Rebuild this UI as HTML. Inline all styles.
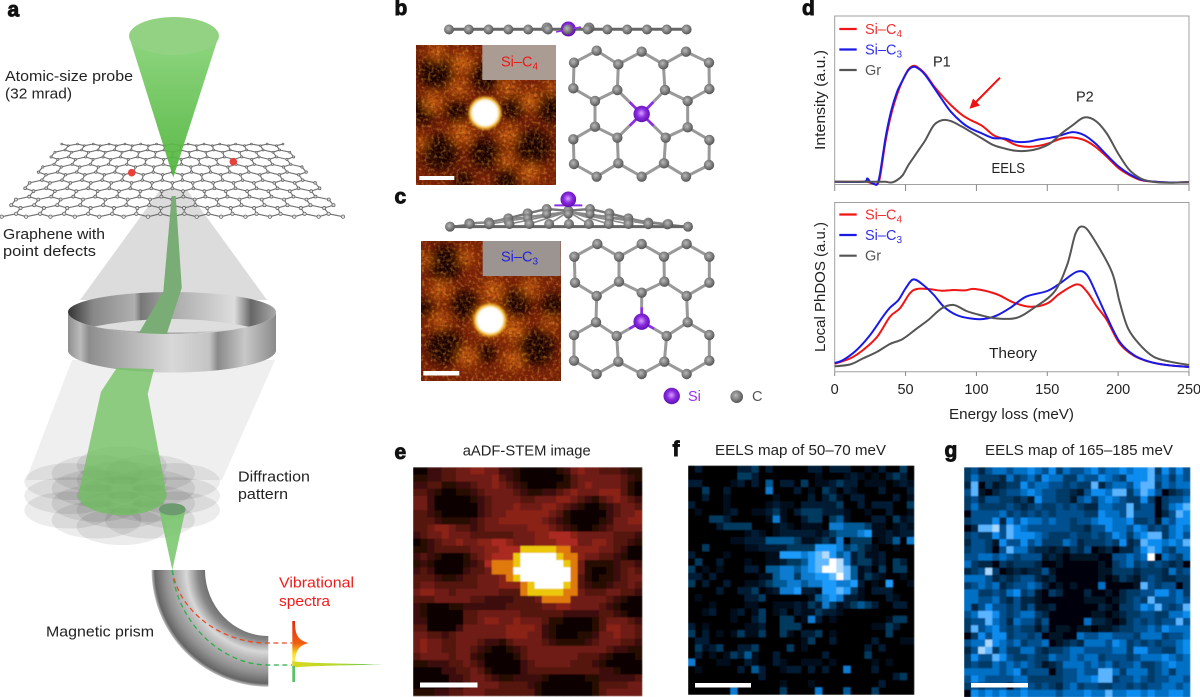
<!DOCTYPE html>
<html lang="en">
<head>
<meta charset="utf-8">
<title>EELS figure</title>
<style>
html,body{margin:0;padding:0;background:#fff;width:1200px;height:697px;overflow:hidden}
svg{display:block;font-family:"Liberation Sans",sans-serif}
.pl{font-weight:bold;font-size:21px;fill:#111;stroke:#111;stroke-width:.9}
.t{font-size:15px;fill:#222}
.leg{font-size:14.5px}
.sub{font-size:10px}
</style>
</head>
<body>
<svg id="fig" xmlns="http://www.w3.org/2000/svg" width="1200" height="697" viewBox="0 0 1200 697">
<defs>
  <linearGradient id="coneG" x1="0" y1="0" x2="0" y2="1"><stop offset="0" stop-color="#86d276"/><stop offset="1" stop-color="#4fb43a"/></linearGradient>
  <linearGradient id="ringG" x1="0" y1="0" x2="1" y2="0">
    <stop offset="0" stop-color="#8f8f8f"/><stop offset=".06" stop-color="#bbb"/><stop offset=".1" stop-color="#8d8d8d"/><stop offset=".3" stop-color="#b5b5b5"/><stop offset=".5" stop-color="#d8d8d8"/><stop offset=".68" stop-color="#c4c4c4"/><stop offset=".72" stop-color="#8a8a8a"/><stop offset=".85" stop-color="#c8c8c8"/><stop offset="1" stop-color="#8a8a8a"/>
  </linearGradient>
  <linearGradient id="ringIn" x1="0" y1="0" x2="1" y2="0">
    <stop offset="0" stop-color="#333"/><stop offset=".12" stop-color="#888"/><stop offset=".32" stop-color="#b0b0b0"/><stop offset=".35" stop-color="#777"/><stop offset=".5" stop-color="#aaa"/><stop offset=".8" stop-color="#ddd"/><stop offset=".88" stop-color="#666"/><stop offset="1" stop-color="#aaa"/>
  </linearGradient>
  <radialGradient id="prismG" gradientUnits="userSpaceOnUse" cx="268.3" cy="570" r="117">
    <stop offset=".54" stop-color="#6f6f6f"/><stop offset=".6" stop-color="#858585"/><stop offset=".7" stop-color="#d8d8d8"/><stop offset=".76" stop-color="#bcbcbc"/><stop offset=".88" stop-color="#929292"/><stop offset=".97" stop-color="#646464"/><stop offset="1" stop-color="#ccc"/>
  </radialGradient>
  <linearGradient id="specR" x1="0" y1="0" x2="0" y2="1"><stop offset="0" stop-color="#e02a10"/><stop offset=".55" stop-color="#f06010"/><stop offset=".8" stop-color="#f8e020"/><stop offset="1" stop-color="#f8f070"/></linearGradient>
  <linearGradient id="specG" x1="0" y1="0" x2="1" y2="0"><stop offset="0" stop-color="#d8d820"/><stop offset=".5" stop-color="#b8d830"/><stop offset="1" stop-color="#50c050"/></linearGradient>
  <radialGradient id="cBall" cx=".42" cy=".4" r=".6"><stop offset="0" stop-color="#b8b8b8"/><stop offset="1" stop-color="#555"/></radialGradient>
  <radialGradient id="siBall" cx=".48" cy=".45" r=".55"><stop offset="0" stop-color="#d9a0ff"/><stop offset=".5" stop-color="#8a2be0"/><stop offset="1" stop-color="#5e10b0"/></radialGradient>
  <filter id="blur6" x="-30%" y="-30%" width="160%" height="160%"><feGaussianBlur stdDeviation="5"/></filter>
  <filter id="blur2" x="-30%" y="-30%" width="160%" height="160%"><feGaussianBlur stdDeviation="1.3"/></filter>
  <filter id="soft" x="0" y="0" width="100%" height="100%"><feGaussianBlur stdDeviation=".45"/></filter>
  <filter id="noiseO" x="0" y="0" width="100%" height="100%"><feTurbulence type="fractalNoise" baseFrequency="0.32" numOctaves="2" seed="3"/><feColorMatrix type="matrix" values="0 0 0 0 .9  0 0 0 0 .42  0 0 0 0 .05  3 0 0 0 -1.4"/></filter>
  <filter id="noiseD" x="0" y="0" width="100%" height="100%"><feTurbulence type="fractalNoise" baseFrequency="0.35" numOctaves="2" seed="11"/><feColorMatrix type="matrix" values="0 0 0 0 .12  0 0 0 0 .02  0 0 0 0 0  3 0 0 0 -1.35"/></filter>
  <clipPath id="clipB"><rect x="416" y="45" width="140" height="140"/></clipPath>
  <clipPath id="clipC"><rect x="421" y="241" width="140" height="140"/></clipPath>
</defs>

<!-- panel a -->
<g id="panel-a">
  <polygon points="160,190 187,190 267,300 80,300" fill="#dcdcdc"/>
  <g id="lattice"></g>
  <circle cx="131.7" cy="172.7" r="3.8" fill="#e8403a"/>
  <circle cx="233.3" cy="161.7" r="3.8" fill="#e8403a"/>
  <polygon points="129,36 218.7,36 173.3,177.5" fill="url(#coneG)" opacity=".93"/>
  <ellipse cx="174" cy="36" rx="45" ry="19" fill="#93d283"/>
  <polygon points="171.7,196 175.7,196 181.7,286.7 166.7,333.3 138.3,333.3 163.3,291.7" fill="#79ad75"/>
  <path d="M68,312 A104,20 0 0 1 276,312 A104,22 0 0 1 68,312Z" fill="url(#ringIn)"/>
  <path d="M92,327 Q172,311 250,327 Q172,338 92,327Z" fill="#dedede"/>
  <polygon points="163.3,291.7 181.7,286.7 181.7,288 166.7,334 138.3,334" fill="#79ad75"/>
  <path d="M68,312 A104,22 0 0 0 276,312 L276,350 A104,22.5 0 0 1 68,350Z" fill="url(#ringG)"/>
  <polygon points="72,360 275,360 222,480 26,480" fill="#ececec" opacity=".85"/>
  <g id="diffraction"></g>
  <path d="M68,340 L276,340 L276,350 A104,22.5 0 0 1 68,350Z" fill="url(#ringG)"/>
  <path d="M116.7,368 L154,369 L147.7,394 L166.7,495 A44,20 0 0 1 78.3,495 L101,391.7Z" fill="#6fc060" opacity=".78"/>
  <polygon points="159,509 185.6,509 172.3,570" fill="#74c468" opacity=".85"/>
  <ellipse cx="172.3" cy="509.3" rx="13.3" ry="6" fill="#6d9a6e"/>
  <path d="M151.6,570 A116.7,116.7 0 0 0 268.3,686.7 L268.3,636 A63.3,66 0 0 1 205,570Z" fill="url(#prismG)"/>
  <path d="M172.3,570 C178,610 220,643 267,643 L292,643" fill="none" stroke="#ea4a28" stroke-width="1.3" stroke-dasharray="5 3.5"/>
  <path d="M172.3,570 C176,620 220,665 268,665 L292,665" fill="none" stroke="#2fae4a" stroke-width="1.3" stroke-dasharray="5 3.5"/>
  <path d="M292.3,621 L295,621 C295,634 297,640 308.7,643 C297,646 296,652 295,662 L292.3,662Z" fill="url(#specR)"/>
  <path d="M292.3,661 C300,663 340,663.5 382,664.5 C340,665.5 300,666 292.3,668Z" fill="url(#specG)"/>
  <path d="M292.3,666 L295,666 L295,682 L292.3,682Z" fill="#5cc06a"/>
  <text class="t" x="5" y="81" textLength="128" lengthAdjust="spacingAndGlyphs">Atomic-size probe</text>
  <text class="t" x="5" y="98.5" textLength="67" lengthAdjust="spacingAndGlyphs">(32 mrad)</text>
  <text class="t" x="3" y="239" textLength="102" lengthAdjust="spacingAndGlyphs">Graphene with</text>
  <text class="t" x="3" y="256" textLength="93" lengthAdjust="spacingAndGlyphs">point defects</text>
  <text class="t" x="238" y="481.5" textLength="72" lengthAdjust="spacingAndGlyphs">Diffraction</text>
  <text class="t" x="238" y="499" textLength="50" lengthAdjust="spacingAndGlyphs">pattern</text>
  <text class="t" x="46" y="636.5" textLength="108" lengthAdjust="spacingAndGlyphs">Magnetic prism</text>
  <text class="t" x="279" y="587.5" textLength="75" lengthAdjust="spacingAndGlyphs" style="fill:#f01c1c">Vibrational</text>
  <text class="t" x="279" y="606" textLength="51" lengthAdjust="spacingAndGlyphs" style="fill:#f01c1c">spectra</text>
</g>

<!-- panels b,c images -->
<g id="stem-b" clip-path="url(#clipB)">
  <rect x="416" y="45" width="140" height="140" fill="#7c2008"/>
  <g id="stem-b-blobs" filter="url(#blur6)"></g>
  <rect x="416" y="45" width="140" height="140" filter="url(#noiseO)" opacity=".45"/>
  <rect x="416" y="45" width="140" height="140" filter="url(#noiseD)" opacity=".6"/>
  <circle cx="485" cy="113" r="16.5" fill="#f0b020" filter="url(#blur2)"/>
  <circle cx="485" cy="113" r="14" fill="#fff" filter="url(#blur2)"/>
  <rect x="482.3" y="45" width="74" height="35" fill="#aa9c92"/>
  <rect x="419.3" y="176" width="35" height="4" fill="#fff"/>
</g>
<text class="leg" x="501" y="66.5" fill="#f01818">Si–C<tspan class="sub" dy="3">4</tspan></text>

<g id="stem-c" clip-path="url(#clipC)">
  <rect x="421" y="241" width="140" height="140" fill="#7c2008"/>
  <g id="stem-c-blobs" filter="url(#blur6)"></g>
  <rect x="421" y="241" width="140" height="140" filter="url(#noiseO)" opacity=".45"/>
  <rect x="421" y="241" width="140" height="140" filter="url(#noiseD)" opacity=".6"/>
  <circle cx="490" cy="320" r="16.5" fill="#f0b020" filter="url(#blur2)"/>
  <circle cx="490" cy="320" r="14" fill="#fff" filter="url(#blur2)"/>
  <rect x="482.7" y="241" width="78" height="35" fill="#9c9490"/>
  <rect x="423.3" y="371" width="36" height="4.5" fill="#fff"/>
</g>
<text class="leg" x="501" y="261.5" fill="#2222e0">Si–C<tspan class="sub" dy="3">3</tspan></text>

<g id="molecules"></g>

<circle cx="671.7" cy="396" r="8.2" fill="url(#siBall)"/>
<text class="t" x="688" y="401" style="fill:#9a30f0;font-size:14.5px">Si</text>
<circle cx="736.7" cy="396.7" r="6.3" fill="url(#cBall)"/>
<text class="t" x="752" y="401" style="fill:#555;font-size:14.5px">C</text>

<!-- charts -->
<g id="chart-top"></g>
<g id="chart-bottom"></g>

<g>
  <text class="t" x="933" y="66.5" style="font-size:14.5px">P1</text>
  <text class="t" x="1076" y="101.5" style="font-size:14.5px">P2</text>
  <text class="t" x="991.5" y="173" style="font-size:15px" textLength="33.5" lengthAdjust="spacingAndGlyphs">EELS</text>
  <text class="t" x="989" y="358" style="font-size:15px" textLength="48" lengthAdjust="spacingAndGlyphs">Theory</text>
  <text class="t" transform="translate(825,150) rotate(-90)" textLength="100" lengthAdjust="spacingAndGlyphs">Intensity (a.u.)</text>
  <text class="t" transform="translate(825,352) rotate(-90)" textLength="130" lengthAdjust="spacingAndGlyphs">Local PhDOS (a.u.)</text>
  <text class="t" x="949" y="419" textLength="125" lengthAdjust="spacingAndGlyphs">Energy loss (meV)</text>
  <line x1="1000" y1="77.7" x2="975" y2="103" stroke="#f01010" stroke-width="2"/>
  <polygon points="969.5,108.8 973,98.5 980,105.5" fill="#f01010"/>
</g>

<!-- heat maps -->
<g id="map-e" filter="url(#soft)"></g>
<g id="map-f" filter="url(#soft)"></g>
<g id="map-g" filter="url(#soft)"></g>
<rect x="420" y="682.5" width="57.5" height="5" fill="#fff"/>
<rect x="695" y="683" width="56" height="4.5" fill="#fff"/>
<rect x="971" y="683" width="57" height="4.5" fill="#fff"/>
<text class="t" x="462.7" y="455.5" textLength="128" lengthAdjust="spacingAndGlyphs">aADF-STEM image</text>
<text class="t" x="715" y="455" textLength="171" lengthAdjust="spacingAndGlyphs">EELS map of 50–70 meV</text>
<text class="t" x="985" y="455" textLength="188" lengthAdjust="spacingAndGlyphs">EELS map of 165–185 meV</text>

<!-- panel letters -->
<text class="pl" x="7.5" y="16.5">a</text>
<text class="pl" x="394.5" y="15">b</text>
<text class="pl" x="394.5" y="203.5">c</text>
<text class="pl" x="802" y="15">d</text>
<text class="pl" x="394.5" y="459">e</text>
<text class="pl" x="672.5" y="456">f</text>
<text class="pl" x="944.5" y="457">g</text>
</svg>

<script>
/* ---------- chart data ---------- */
const tickValues = [0, 50, 100, 150, 200, 250];
const eelsEnergy = [0,20,23,25,28,30,32,36,40,44,48,52,56,60,64,70,76,82,90,96,104,112,120,128,136,144,152,160,168,176,184,192,200,208,216,224,236,250];
const eelsSiC4 = [0,0,0,-1,-2.3,-2.3,5,41.7,68.3,87.3,101.7,112.3,116,113,107.7,95.7,85.7,76.7,66.7,61.7,56,46.7,42.3,36.7,35,36,39,43.3,44.3,41.7,35,25,14,6.7,1.7,0.3,-0.7,-0.3];
const eelsSiC3 = [0,0,3.3,0,-2.3,-2.3,8.3,45,71.7,90,101.7,111.7,115,112.3,106.7,94.3,81.7,70,59,53.3,48.3,43.7,43.3,40,40,42.3,44,46.7,49.7,46.7,38.3,26.7,15.7,7.7,2.3,0.3,-0.7,-0.3];
const eelsGr = [0,0,0,0,0,0,0,0,-0.7,1.7,6.7,16.7,25,33.3,41.7,56.7,61.7,60.7,55,50,43.3,36.7,33.3,31,31,33.3,38.3,48.3,56.7,64.3,61,48.3,28.3,11.7,3.3,0,-1,-0.3];

const theoryEnergyC4 = [0,11,20,30,39,46,53,58,66,75.5,84,92,99,114,126,138,150,159,171,178,185,192,201,211,222,234,250];
const theorySiC4 = [8,13.3,21.7,35,55,63.3,78.3,82.7,82.7,81,81.7,81.3,82.7,77.7,69.3,65,68.3,78.3,87.3,80,65,51.7,28.3,16,10,6.7,4.7];
const theoryEnergyC3 = [0,6,15.5,25,34,39,45,50,55.5,62.5,70,77,86,95.5,105,114,124,135,150,159,171,178,185,192,201,211,222,234,250];
const theorySiC3 = [8.7,11.7,21.7,36.7,55,64,71.7,83.3,92.3,86.7,76.7,65,56.7,53.3,52.7,56,64,75,80.7,88.3,100,96.7,76.7,55,30,16.7,10,6.7,4.7];
const theoryEnergyGr = [0,11,20,30,39,48,58,66,75.5,84,93,102.5,114,128,140,155,164,170,175.5,182.5,195.5,201,207,215.5,225,236.6,250];
const theoryGr = [5.3,7.3,13.3,20,27.7,32.7,43.3,51.7,63.3,66.7,60.7,56.7,53.3,53.7,63.3,80,106.7,138.3,145,133.3,100,70,43.3,26.7,15,10,6.7];

/* ---------- heat-map data (one digit per cell, 0 = dark … 9 = white) ---------- */
const adfRows = [
"00223344"+"55442210"+"00001245"+"44333211",
"11223344"+"44453210"+"00000134"+"44444321",
"22331122"+"34454321"+"00001134"+"54444310",
"33210011"+"23444432"+"11223454"+"44555310",
"44200000"+"12344443"+"34445543"+"21345432",
"44200000"+"02344454"+"44554321"+"00123443",
"33210000"+"02344555"+"55543100"+"00023445",
"33321111"+"23445555"+"55432100"+"00124455",
"33455433"+"23444444"+"55543210"+"01234444",
"23445444"+"33333344"+"45566654"+"44443332",
"01234454"+"45566544"+"45556664"+"45543321",
"11233333"+"44556668"+"88887755"+"55443200",
"23210001"+"34566689"+"99998775"+"44332100",
"12100001"+"23677789"+"99999874"+"11112332",
"23200002"+"33477799"+"99999974"+"10012343",
"33321123"+"34445789"+"99999973"+"10112344",
"34433333"+"34445557"+"89999873"+"21123343",
"45544344"+"44443337"+"88888774"+"33344332",
"33344444"+"33222233"+"34777744"+"44432100",
"21000112"+"22222333"+"33445544"+"44321000",
"21000003"+"34444443"+"33333222"+"22332100",
"22000003"+"34554454"+"44311000"+"01344432",
"33000024"+"44444555"+"54210000"+"01355443",
"44332344"+"44444555"+"44210001"+"12445443",
"45443344"+"43221344"+"44321111"+"23444332",
"45443344"+"32100123"+"44444444"+"44432211",
"34444344"+"21000013"+"44444443"+"33210001",
"11222334"+"32000002"+"34444433"+"32100000",
"00002233"+"43100002"+"33333333"+"33221000",
"00000223"+"44321122"+"22100000"+"11222223",
"00000213"+"44443333"+"21000000"+"01333344",
"11122334"+"44333333"+"31000000"+"01344444"
];
const map5070Rows = [
"02000002"+"23020000"+"02202220"+"01020030",
"00000003"+"32000000"+"00100012"+"10102320",
"22000012"+"02040220"+"30112322"+"01110121",
"00300200"+"00050002"+"01032021"+"00020002",
"00200100"+"00001000"+"02023102"+"20000201",
"20000100"+"00012110"+"22222300"+"20222003",
"01000120"+"01123102"+"33322210"+"01002001",
"00033200"+"00015100"+"23303410"+"00220312",
"00002333"+"30001210"+"11105544"+"43110121",
"00000000"+"12101222"+"22123444"+"56112122",
"00000011"+"22244443"+"11232503"+"33012405",
"00300000"+"11222233"+"33666534"+"32100100",
"20000100"+"00011666"+"56786452"+"31120000",
"03002000"+"10011233"+"46779852"+"33120320",
"30101000"+"22044554"+"56799874"+"12030330",
"22020000"+"00114553"+"55667974"+"13210010",
"30200200"+"11234455"+"45566556"+"20106001",
"00002002"+"23012556"+"22166763"+"10222000",
"01000000"+"22300000"+"01456522"+"10002100",
"00010000"+"11001112"+"13253123"+"43200220",
"00120012"+"01301202"+"11322100"+"00000000",
"00000010"+"02300330"+"15201000"+"00001330",
"20100000"+"11200333"+"00000000"+"00113200",
"30201013"+"11300310"+"22301000"+"00003000",
"02200000"+"00000000"+"13002000"+"00200011",
"03123002"+"23000030"+"10000000"+"02020000",
"02010132"+"41002000"+"00020000"+"03000000",
"50001100"+"21002100"+"11101000"+"00101000",
"01000002"+"04200122"+"02020050"+"00200000",
"00000000"+"00200000"+"00000000"+"00000230",
"00000000"+"00000100"+"01000000"+"00020000",
"00000050"+"00000300"+"00500040"+"00300000"
];
const map165185Rows = [
"34245545"+"56546354"+"45645565"+"66736464",
"35333253"+"45365533"+"54465436"+"66745354",
"27031233"+"64554434"+"33724554"+"67735455",
"47102344"+"56544332"+"14665773"+"57640234",
"34244332"+"31644331"+"45356543"+"36303445",
"35333343"+"23433434"+"32255447"+"34403567",
"04444534"+"34343444"+"43365547"+"44402476",
"34446264"+"65545443"+"44566556"+"33415466",
"02778476"+"54444443"+"32446554"+"65343565",
"34336476"+"66543334"+"33434653"+"56773564",
"24431644"+"64533354"+"23334362"+"37665657",
"34430475"+"53221213"+"24012022"+"46764355",
"44554543"+"44412101"+"11100445"+"45905435",
"53220323"+"33200100"+"00010345"+"34343230",
"23483012"+"12241000"+"00011333"+"23332534",
"55542323"+"44212000"+"00010132"+"13432233",
"34545234"+"45420101"+"00050000"+"17434403",
"55334356"+"34103200"+"02001023"+"34466453",
"55445324"+"22100000"+"01110123"+"43744454",
"52464434"+"24112000"+"00021033"+"46574347",
"45776434"+"55320000"+"00110123"+"34433556",
"34475425"+"44240000"+"05221013"+"43434474",
"37456434"+"33130110"+"11011233"+"44546555",
"03646634"+"43401100"+"54455444"+"35553445",
"45586545"+"34450123"+"25554653"+"43434456",
"24873533"+"55323345"+"54444553"+"66443356",
"36447643"+"34335445"+"45534443"+"45556545",
"34335454"+"54312355"+"54545344"+"53345655",
"55555456"+"34440344"+"54477535"+"55345355",
"46544445"+"53333344"+"55677344"+"54344554",
"34344404"+"54343245"+"34433443"+"43445545",
"06565655"+"65555455"+"56557556"+"65655665"
];

const SVGNS = 'http://www.w3.org/2000/svg';
function mk(tag, attrs, parent){
  const el = document.createElementNS(SVGNS, tag);
  for (const k in attrs) el.setAttribute(k, attrs[k]);
  parent.appendChild(el);
  return el;
}

/* ---------- axis functions ---------- */
const xScale = e => 834.7 + e * (1189 - 834.7) / 250;
const yTop = v => 181.8 - v;
const yBottom = v => 371.7 - v;

function smoothPath(xs, vs, yFn){
  const p = xs.map((e, i) => [xScale(e), yFn(vs[i])]);
  let d = 'M' + p[0][0].toFixed(2) + ',' + p[0][1].toFixed(2);
  for (let i = 0; i < p.length - 1; i++){
    const a = p[Math.max(i - 1, 0)], b = p[i], c = p[i + 1], e = p[Math.min(i + 2, p.length - 1)];
    const c1x = b[0] + (c[0] - a[0]) / 6, c1y = b[1] + (c[1] - a[1]) / 6;
    const c2x = c[0] - (e[0] - b[0]) / 6, c2y = c[1] - (e[1] - b[1]) / 6;
    d += 'C' + c1x.toFixed(2) + ',' + c1y.toFixed(2) + ' ' + c2x.toFixed(2) + ',' + c2y.toFixed(2) + ' ' + c[0].toFixed(2) + ',' + c[1].toFixed(2);
  }
  return d;
}
function drawFrame(g, top, bottom, tickEnd, withLabels){
  const fr = mk('path', {d:'M'+xScale(0)+','+bottom+'V'+top+'H'+xScale(250)+'V'+bottom+'H'+xScale(0), fill:'none', stroke:'#a0a0a0', 'stroke-width':1}, g);
  
  
  tickValues.forEach(t => {
    const tk = mk('line', {x1:xScale(t), x2:xScale(t), y1:bottom, y2:tickEnd, stroke:'#888', 'stroke-width':1}, g);
    
    
    if (withLabels){
      const lb = mk('text', {x:xScale(t), y:394, 'text-anchor':'middle', 'font-size':14.5, fill:'#222'}, g);
      
      
      lb.textContent = t;
    }
  });
}
function drawCurve(g, xs, vs, yFn, color, name){
  const c = mk('path', {d:smoothPath(xs, vs, yFn), fill:'none', stroke:color, 'stroke-width':2, 'stroke-linejoin':'round'}, g);
  
  
}
function drawLegend(g, ys){
  const entries = [['Si–C','4','#f01414','#f03030'],['Si–C','3','#1a1ae6','#3030e8'],['Gr','','#555','#555']];
  entries.forEach((en, i) => {
    const ln = mk('line', {x1:839.3, x2:856.7, y1:ys[i], y2:ys[i], stroke:en[2], 'stroke-width':2.2}, g);
    
    
    const tx = mk('text', {x:865, y:ys[i] + 5, 'font-size':14.5, fill:en[3]}, g);
    
    
    tx.textContent = en[0];
    if (en[1]){
      const s = mk('tspan', {dy:3, 'font-size':10}, tx);
      s.textContent = en[1];
    }
  });
}
const gt = document.getElementById('chart-top');
drawFrame(gt, 16, 184.5, 191, false);
drawCurve(gt, eelsEnergy, eelsSiC4, yTop, '#f01414', 'eels-line-si-c4');
drawCurve(gt, eelsEnergy, eelsSiC3, yTop, '#1a1ae6', 'eels-line-si-c3');
drawCurve(gt, eelsEnergy, eelsGr, yTop, '#555555', 'eels-line-gr');
drawLegend(gt, [29, 49.5, 70]);

const gb = document.getElementById('chart-bottom');
drawFrame(gb, 202.5, 371.7, 376, true);
drawCurve(gb, theoryEnergyC4, theorySiC4, yBottom, '#f01414', 'theory-line-si-c4');
drawCurve(gb, theoryEnergyC3, theorySiC3, yBottom, '#1a1ae6', 'theory-line-si-c3');
drawCurve(gb, theoryEnergyGr, theoryGr, yBottom, '#555555', 'theory-line-gr');
drawLegend(gb, [214.5, 235, 255.7]);

/* ---------- heat maps ---------- */
const redPalette = ['#080000','#260906','#3e0f08','#541410','#701a14','#8a2018','#aa2a20','#e07a10','#ecc810','#ffffff'];
const bluePaletteF = ['#000204','#00101c','#021f34','#043a5e','#065a96','#0a7cd0','#1d9bfb','#62b9ff','#b3dcff','#ffffff'];
const bluePaletteG = ['#000408','#001628','#022644','#033a68','#05508e','#0670c4','#0f8cf0','#5ab4ff','#a8d8ff','#ffffff'];
function drawMap(id, rows, palette, x0, y0, w, h){
  const g = document.getElementById(id);
  const cw = w / 32, ch = h / rows.length;
  rows.forEach((row, r) => {
    for (let c = 0; c < 32; c++){
      const cell = mk('rect', {x:x0 + c * cw, y:y0 + r * ch, width:cw + .4, height:ch + .4, fill:palette[+row[c] || 0]}, g);
      
      
    }
  });
}
drawMap('map-e', adfRows, redPalette, 413, 467.3, 229, 228.5);
drawMap('map-f', map5070Rows, bluePaletteF, 688, 465.5, 226, 229);
drawMap('map-g', map165185Rows, bluePaletteG, 964, 467.3, 226, 229.7);

/* ---------- STEM image blobs ---------- */
function blobs(id, dark, bright){
  const g = document.getElementById(id);
  dark.forEach(b => mk('circle', {cx:b[0], cy:b[1], r:b[2] * 1.25, fill:'#160402'}, g));
  bright.forEach(b => mk('circle', {cx:b[0], cy:b[1], r:b[2], fill:'#cc5e0a'}, g));
}
blobs('stem-b-blobs',
  [[436.7,71.7,15],[485,76.7,12],[423,110,12],[456.7,111.7,10],[513,108,10],[550,108,12],[440,152,15],[485,153,13],[533,147,15],[507,180,10],[463,180,8]],
  [[461.7,63,10],[436.7,52,8],[458,88,8],[433,102,9],[530,100,9],[508,88,8],[461.7,133,10],[508,135,9],[507,160,7],[530,173,9],[420,143,6],[552,88,6]]);
blobs('stem-c-blobs',
  [[445,263,15],[465,305,12],[516.7,303,12],[553,305,10],[425,307,8],[445,347,15],[536.7,347,15],[486.7,353,8]],
  [[466.7,257,7],[425,260,6],[493,290,10],[440,290,9],[530,287,8],[440,320,8],[513,330,10],[467,357,9],[513,360,9],[550,323,6],[490,320,16]]);

/* ---------- graphene lattice (illustration) ---------- */
(function(){
  const g = document.getElementById('lattice');
  const N = 28, M = 9, H = 1.5 * M + .5;
  const proj = (i, j) => {
    const yy = j * 1.5 + ((i + j) % 2 ? .5 : 0);
    const t = Math.pow(yy / H, 1.12);
    const y = 144 + 72.7 * t;
    const l = 61.7 - 60 * t, r = 283 + 60 * t;
    return [l + (r - l) * (i / N), y];
  };
  let d = '';
  for (let j = 0; j <= M; j++) for (let i = 0; i <= N; i++){
    const p = proj(i, j);
    if (i < N){ const q = proj(i + 1, j); d += 'M' + p[0].toFixed(1) + ',' + p[1].toFixed(1) + 'L' + q[0].toFixed(1) + ',' + q[1].toFixed(1); }
    if (j < M && (i + j) % 2){ const q = proj(i, j + 1); d += 'M' + p[0].toFixed(1) + ',' + p[1].toFixed(1) + 'L' + q[0].toFixed(1) + ',' + q[1].toFixed(1); }
  }
  mk('path', {d:d, fill:'none', stroke:'#6e6e6e', 'stroke-width':1.1}, g);
  for (let j = 0; j <= M; j++) for (let i = 0; i <= N; i++){
    const p = proj(i, j);
    mk('circle', {cx:p[0], cy:p[1], r:.9 + (p[1] - 144) / 72.7 * .8, fill:'#ddd', stroke:'#666', 'stroke-width':.8}, g);
  }
})();

/* ---------- diffraction discs (illustration) ---------- */
(function(){
  const g = document.getElementById('diffraction');
  const cols = [[208,[395,437,480]],[290,[370,415,460,510]],[365,[345,390,435,480,530]],[450,[370,415,460,510]],[525,[395,437,480]]];
  cols.forEach(c => c[1].forEach(y => {
    mk('ellipse', {cx:c[0] / 3, cy:350 + y / 3, rx:45, ry:18.5, fill:'#000', 'fill-opacity':.075}, g);
  }));
})();

/* ---------- atomic models (illustration) ---------- */
(function(){
  const g = document.getElementById('molecules');
  const ball = (x, y, r, si) => mk('circle', {cx:x, cy:y, r:r, fill:si ? 'url(#siBall)' : 'url(#cBall)'}, g);
  function topView(atoms, si, nb, ox, oy){
    const T = p => [ox + p[0] / 3, oy + p[1] / 3];
    for (let i = 0; i < atoms.length; i++) for (let j = i + 1; j < atoms.length; j++){
      const dx = atoms[i][0] - atoms[j][0], dy = atoms[i][1] - atoms[j][1];
      if (Math.hypot(dx, dy) < 90){
        const a = T(atoms[i]), b = T(atoms[j]);
        mk('line', {x1:a[0], y1:a[1], x2:b[0], y2:b[1], stroke:'#999', 'stroke-width':3}, g);
      }
    }
    const s = T(si);
    nb.forEach(k => {
      const a = T(atoms[k]);
      const m = [(a[0] + s[0]) / 2, (a[1] + s[1]) / 2];
      mk('line', {x1:a[0], y1:a[1], x2:m[0], y2:m[1], stroke:'#999', 'stroke-width':3}, g);
      mk('line', {x1:m[0], y1:m[1], x2:s[0], y2:s[1], stroke:'#8a30e0', 'stroke-width':2.8}, g);
    });
    atoms.forEach(p => { const a = T(p); ball(a[0], a[1], 5.2); });
    ball(s[0], s[1], 8.2, true);
  }
  const bAtoms = [[620,152],[755,155],[888,155],[552,188],[685,193],[820,193],[957,188],[550,265],[682,270],[825,270],[958,267],[615,303],[893,303],[615,380],[893,382],[550,418],[682,413],[827,413],[958,420],[552,492],[685,490],[822,490],[957,495],[620,530],[755,530],[888,530]];
  topView(bAtoms, [755,342], [8,9,16,17], 390, 0);
  const cAtoms = [[622,162],[755,162],[890,162],[553,200],[687,200],[822,200],[958,200],[555,278],[687,275],[823,275],[958,278],[620,318],[755,308],[890,318],[618,397],[893,397],[552,435],[680,438],[830,438],[958,435],[552,512],[685,515],[823,515],[958,512],[620,552],[755,552],[890,552]];
  topView(cAtoms, [755,395], [12,17,18], 390, 190);

  /* side view b */
  mk('line', {x1:449, y1:29.3, x2:687, y2:29.3, stroke:'#666', 'stroke-width':3}, g);
  ball(568.3, 29, 7.5, true);
  mk('line', {x1:556, y1:32, x2:581, y2:27, stroke:'#8a30e0', 'stroke-width':1.6}, g);
  ball(547, 28, 5.5); ball(589, 28, 5.5);
  for (let i = 0; i < 13; i++) ball(449 + i * 19.8, 29.5, 5);

  /* side view c */
  const row2 = [[238,100],[297,97],[355,85],[413,70],[470,57],[535,62],[600,57],[658,70],[715,85],[775,98],[832,103]];
  const row3 = [[297,104],[355,95],[413,85],[470,72],[535,72],[600,72],[658,85],[715,95],[775,104]];
  const row1 = [];
  for (let i = 0; i < 13; i++) row1.push([180 + i * 59.5, i === 0 || i === 12 ? 110 : 102]);
  const T2 = p => [390 + p[0] / 3, 190 + p[1] / 3];
  const hull = 'M' + row2.map(p => T2(p).join(',')).join('L');
  mk('path', {d:hull, fill:'none', stroke:'#777', 'stroke-width':2.4}, g);
  row1.forEach(p => {
    const a = T2(p), b = T2([535,65]);
    mk('line', {x1:a[0], y1:a[1], x2:b[0], y2:b[1], stroke:'#888', 'stroke-width':1.6}, g);
  });
  row2.forEach(p => { const a = T2(p); ball(a[0], a[1], 5); });
  row3.forEach(p => { const a = T2(p); ball(a[0], a[1], 4.6); });
  mk('line', {x1:T2(row1[0])[0], y1:T2(row1[0])[1], x2:T2(row1[12])[0], y2:T2(row1[12])[1], stroke:'#666', 'stroke-width':3}, g);
  row1.forEach(p => { const a = T2(p); ball(a[0], a[1], 5); });
  const sc = T2([535,28]);
  mk('line', {x1:sc[0] - 14, y1:sc[1] + 6, x2:sc[0] + 14, y2:sc[1] + 6, stroke:'#8a30e0', 'stroke-width':2}, g);
  ball(sc[0], sc[1], 7.8, true);
})();
</script>
</body>
</html>
